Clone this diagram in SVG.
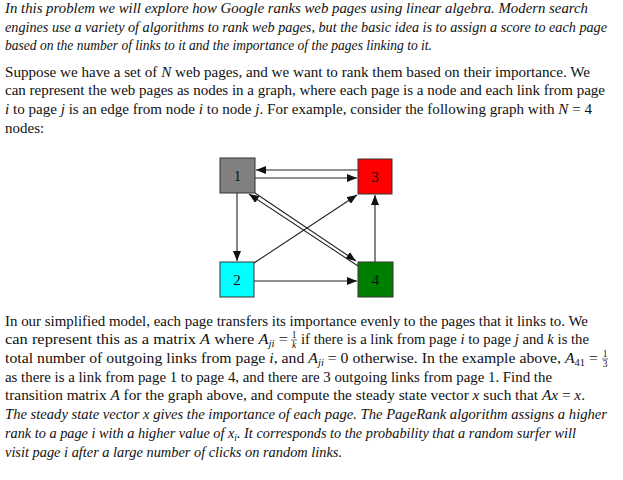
<svg xmlns="http://www.w3.org/2000/svg" width="623" height="480" viewBox="0 0 623 480">
<style>
text{font-family:"Liberation Serif","DejaVu Serif",serif;font-size:15px;fill:#111}
.i{font-style:italic}
.n{font-size:15px;text-anchor:middle}
.f{font-size:9.5px;text-anchor:middle}
.e{stroke:#222;stroke-width:1.1;fill:none;marker-end:url(#a)}
.box{stroke:#333;stroke-width:1}
</style>
<defs><marker id="a" viewBox="0 0 10 8" refX="10" refY="4" markerWidth="10" markerHeight="8" orient="auto" markerUnits="userSpaceOnUse"><path d="M0,0L10,4L0,8z" fill="#111"/></marker></defs>
<rect width="623" height="480" fill="#fff"/>
<text x="5" y="13" class="i" textLength="583" lengthAdjust="spacingAndGlyphs">In this problem we will explore how Google ranks web pages using linear algebra. Modern search</text>
<text x="5" y="32" class="i" textLength="602" lengthAdjust="spacingAndGlyphs">engines use a variety of algorithms to rank web pages, but the basic idea is to assign a score to each page</text>
<text x="5" y="50" class="i" textLength="427" lengthAdjust="spacingAndGlyphs">based on the number of links to it and the importance of the pages linking to it.</text>
<text x="5" y="77" textLength="585" lengthAdjust="spacingAndGlyphs">Suppose we have a set of <tspan class="i">N</tspan> web pages, and we want to rank them based on their importance. We</text>
<text x="5" y="95" textLength="600" lengthAdjust="spacingAndGlyphs">can represent the web pages as nodes in a graph, where each page is a node and each link from page</text>
<text x="5" y="114" textLength="587" lengthAdjust="spacingAndGlyphs"><tspan class="i">i</tspan> to page <tspan class="i">j</tspan> is an edge from node <tspan class="i">i</tspan> to node <tspan class="i">j</tspan>. For example, consider the following graph with <tspan class="i">N</tspan> = 4</text>
<text x="5" y="133">nodes:</text>
<g id="connectors">
<line class="e" x1="255" y1="178" x2="357" y2="178"/>
<line class="e" x1="358" y1="170" x2="256" y2="170"/>
<line class="e" x1="237" y1="193" x2="237" y2="261"/>
<line class="e" x1="254" y1="281" x2="357" y2="281"/>
<line class="e" x1="375" y1="262" x2="375" y2="195"/>
<line class="e" x1="254" y1="263" x2="357" y2="195"/>
<line class="e" x1="255" y1="193" x2="356" y2="261"/>
<line class="e" x1="358" y1="266" x2="249" y2="194"/>
</g>
<g id="n1"><rect class="box" x="220" y="158" width="35" height="35" fill="#808080"/><text class="n" x="237.5" y="181">1</text></g>
<g id="n3"><rect class="box" x="358" y="159" width="34" height="35" fill="#ff0000"/><text class="n" x="375" y="182">3</text></g>
<g id="n2"><rect class="box" x="220" y="262" width="34" height="35" fill="#00ffff"/><text class="n" x="237" y="285">2</text></g>
<g id="n4"><rect class="box" x="358" y="262" width="35" height="35" fill="#008000"/><text class="n" x="375.5" y="285">4</text></g>
<text x="5" y="326" textLength="583" lengthAdjust="spacingAndGlyphs">In our simplified model, each page transfers its importance evenly to the pages that it links to. We</text>
<text x="5" y="344" textLength="283" lengthAdjust="spacingAndGlyphs">can represent this as a matrix <tspan class="i">A</tspan> where <tspan class="i">A</tspan><tspan class="i" font-size="10" dy="3">ji</tspan><tspan dy="-3"> =</tspan></text>
<text class="f" x="294" y="338">1</text><line x1="291" y1="340" x2="297" y2="340" stroke="#111" stroke-width="0.6"/><text class="f i" x="294" y="348">k</text>
<text x="301" y="344" textLength="288" lengthAdjust="spacingAndGlyphs">if there is a link from page <tspan class="i">i</tspan> to page <tspan class="i">j</tspan> and <tspan class="i">k</tspan> is the</text>
<text x="5" y="363" textLength="593" lengthAdjust="spacingAndGlyphs">total number of outgoing links from page <tspan class="i">i</tspan>, and <tspan class="i">A</tspan><tspan class="i" font-size="10" dy="3">ji</tspan><tspan dy="-3"> = 0 otherwise. In the example above, </tspan><tspan class="i">A</tspan><tspan font-size="10" dy="3">41</tspan><tspan dy="-3"> =</tspan></text>
<text class="f" x="605" y="357">1</text><line x1="602" y1="359" x2="608" y2="359" stroke="#111" stroke-width="0.6"/><text class="f" x="605" y="367">3</text>
<text x="5" y="382" textLength="547" lengthAdjust="spacingAndGlyphs">as there is a link from page 1 to page 4, and there are 3 outgoing links from page 1. Find the</text>
<text x="5" y="400" textLength="580" lengthAdjust="spacingAndGlyphs">transition matrix <tspan class="i">A</tspan> for the graph above, and compute the steady state vector <tspan class="i">x</tspan> such that <tspan class="i">Ax</tspan> = <tspan class="i">x</tspan>.</text>
<text x="5" y="419" class="i" textLength="602" lengthAdjust="spacingAndGlyphs">The steady state vector x gives the importance of each page. The PageRank algorithm assigns a higher</text>
<text x="5" y="438" class="i" textLength="571" lengthAdjust="spacingAndGlyphs">rank to a page i with a higher value of x<tspan font-size="10" dy="3">i</tspan><tspan dy="-3">. It corresponds to the probability that a random surfer will</tspan></text>
<text x="5" y="457" class="i" textLength="337" lengthAdjust="spacingAndGlyphs">visit page i after a large number of clicks on random links.</text>
</svg>
